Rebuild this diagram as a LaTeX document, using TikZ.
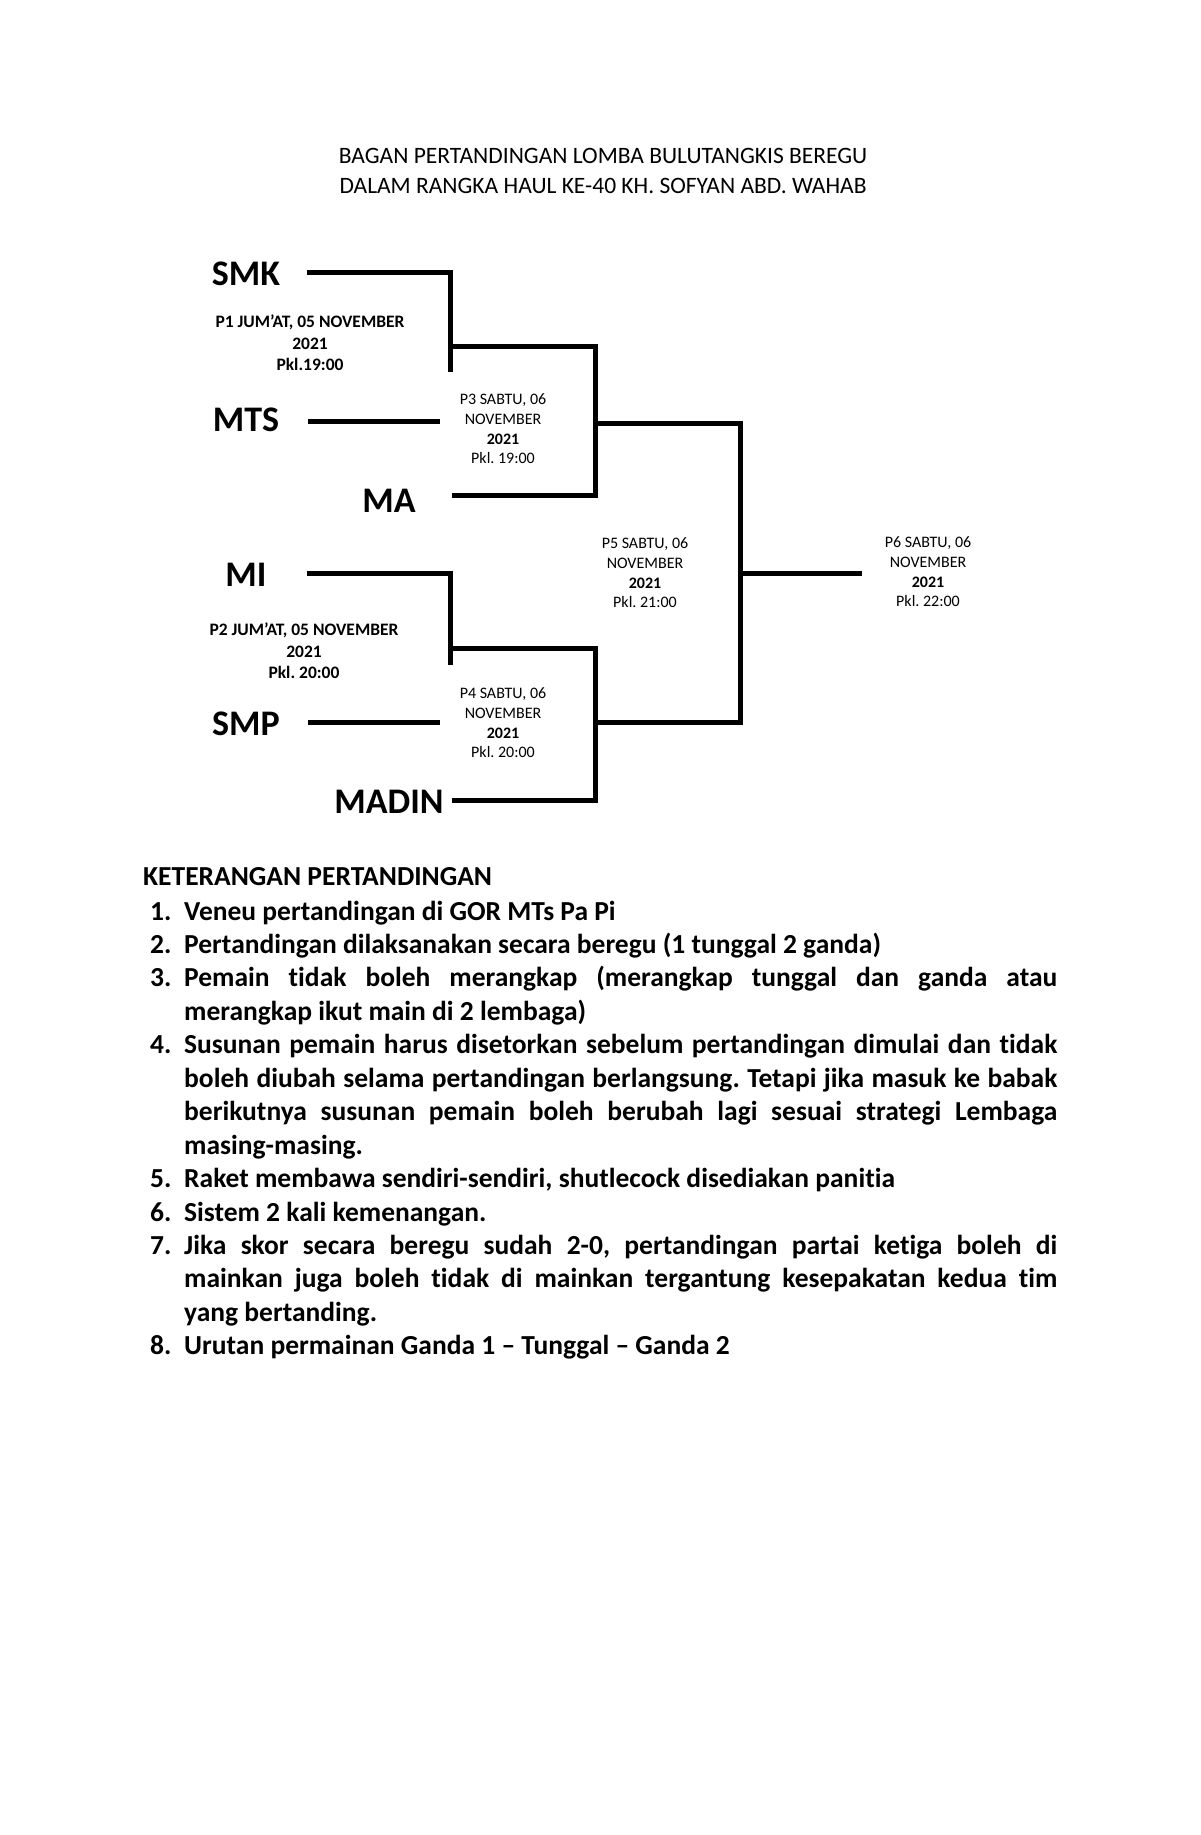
\documentclass[tikz,border=0pt]{standalone}
\usepackage{fontspec}
\setmainfont{Carlito}[Ligatures=NoCommon]
\frenchspacing
\newcommand{\bodyf}{\fontsize{27.5}{33}\selectfont\bfseries}
\begin{document}
\frenchspacing
\begin{tikzpicture}[x=1pt,y=-1pt,
  br/.style={line width=5pt, line join=miter, line cap=butt},
  team/.style={inner sep=0pt, font=\fontsize{36}{40}\selectfont\bfseries},
  infoA/.style={inner sep=0pt, align=center, font=\fontsize{17.5}{21.5}\selectfont\bfseries},
  infoB/.style={inner sep=0pt, align=center, font=\fontsize{16}{19.7}\selectfont},
  ln/.style={anchor=base west, inner sep=0pt, font=\bodyf},
]
\fill[white] (0,0) rectangle (1200,1835);
\useasboundingbox (0,0) rectangle (1200,1835);

% title
\node[inner sep=0pt, align=center, font=\fontsize{23.5}{30}\selectfont] (title) at (603,171)
  {BAGAN PERTANDINGAN LOMBA BULUTANGKIS BEREGU\\DALAM RANGKA HAUL KE-40 KH. SOFYAN ABD. WAHAB};

% teams
\node[team] (smk) at (246,274) {SMK};
\node[team] (mts) at (246,420) {MTS};
\node[team] (ma) at (389,501) {MA};
\node[team] (mi) at (246,575) {MI};
\node[team] (smp) at (246,724) {SMP};
\node[team] (madin) at (389,802) {MADIN};

% match info
\node[infoA] (p1) at (310,343) {P1 JUM’AT, 05 NOVEMBER\\2021\\Pkl.19:00};
\node[infoA] (p2) at (304,651) {P2 JUM’AT, 05 NOVEMBER\\2021\\Pkl. 20:00};
\node[infoB] (p3) at (503,429) {P3 SABTU, 06\\NOVEMBER\\\textbf{2021}\\Pkl. 19:00};
\node[infoB] (p4) at (503,723) {P4 SABTU, 06\\NOVEMBER\\\textbf{2021}\\Pkl. 20:00};
\node[infoB] (p5) at (645,573) {P5 SABTU, 06\\NOVEMBER\\\textbf{2021}\\Pkl. 21:00};
\node[infoB] (p6) at (928,572) {P6 SABTU, 06\\NOVEMBER\\\textbf{2021}\\Pkl. 22:00};

% bracket coordinates
\coordinate (smkL) at (307,272); \coordinate (smkR) at (450,272); \coordinate (smkD) at (450,372);
\coordinate (mtsL) at (308,421); \coordinate (mtsR) at (440,421);
\coordinate (q1) at (450,346); \coordinate (q2) at (595,346); \coordinate (q3) at (595,495); \coordinate (maL) at (452,495);
\coordinate (miL) at (307,573); \coordinate (miR) at (450,573); \coordinate (miD) at (450,665);
\coordinate (smpL) at (308,722); \coordinate (smpR) at (440,722);
\coordinate (w1) at (450,648); \coordinate (w2) at (595,648); \coordinate (w3) at (595,800); \coordinate (madinL) at (452,800);
\coordinate (s1) at (595,423); \coordinate (s2) at (740,423); \coordinate (s3) at (740,722); \coordinate (s4) at (595,722);
\coordinate (f1) at (740,573); \coordinate (f2) at (862,573);

\draw[br] (smkL) -- (smkR) -- (smkD);
\draw[br] (mtsL) -- (mtsR);
\draw[br] (q1) -- (q2) -- (q3) -- (maL);
\draw[br] (miL) -- (miR) -- (miD);
\draw[br] (smpL) -- (smpR);
\draw[br] (w1) -- (w2) -- (w3) -- (madinL);
\draw[br] (s1) -- (s2) -- (s3) -- (s4);
\draw[br] (f1) -- (f2);

% notes
\node[ln] (ket) at (143,885) {KETERANGAN PERTANDINGAN};
\node[ln] (n1) at (150,920) {1.};
\node[ln] (t1) at (184,920) {Veneu pertandingan di GOR MTs Pa Pi};
\node[ln] (n2) at (150,953) {2.};
\node[ln] (t2) at (184,953) {Pertandingan dilaksanakan secara beregu (1 tunggal 2 ganda)};
\node[ln] (n3) at (150,986.5) {3.};
\node[ln] (t3a) at (184,986.5) {\makebox[873pt][s]{Pemain tidak boleh merangkap (merangkap tunggal dan ganda atau}};
\node[ln] (t3b) at (184,1020) {merangkap ikut main di 2 lembaga)};
\node[ln] (n4) at (150,1053) {4.};
\node[ln] (t4a) at (184,1053) {\makebox[873pt][s]{Susunan pemain harus disetorkan sebelum pertandingan dimulai dan tidak}};
\node[ln] (t4b) at (184,1087) {\makebox[873pt][s]{boleh diubah selama pertandingan berlangsung. Tetapi jika masuk ke babak}};
\node[ln] (t4c) at (184,1120) {\makebox[873pt][s]{berikutnya susunan pemain boleh berubah lagi sesuai strategi Lembaga}};
\node[ln] (t4d) at (184,1154) {masing-masing.};
\node[ln] (n5) at (150,1187) {5.};
\node[ln] (t5) at (184,1187) {Raket membawa sendiri-sendiri, shutlecock disediakan panitia};
\node[ln] (n6) at (150,1221) {6.};
\node[ln] (t6) at (184,1221) {Sistem 2 kali kemenangan.};
\node[ln] (n7) at (150,1254) {7.};
\node[ln] (t7a) at (184,1254) {\makebox[873pt][s]{Jika skor secara beregu sudah 2-0, pertandingan partai ketiga boleh di}};
\node[ln] (t7b) at (184,1287) {\makebox[873pt][s]{mainkan juga boleh tidak di mainkan tergantung kesepakatan kedua tim}};
\node[ln] (t7c) at (184,1321) {yang bertanding.};
\node[ln] (n8) at (150,1354) {8.};
\node[ln] (t8) at (184,1354) {Urutan permainan Ganda 1 – Tunggal – Ganda 2};
\end{tikzpicture}
\end{document}
